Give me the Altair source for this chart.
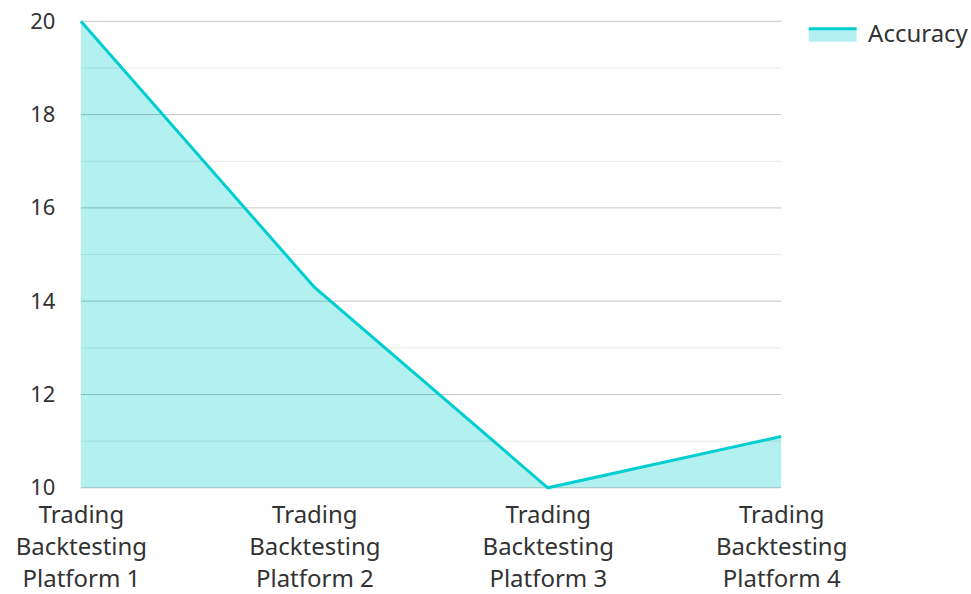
import altair as alt
import pandas as pd

platforms = [
    "Trading Backtesting Platform 1",
    "Trading Backtesting Platform 2",
    "Trading Backtesting Platform 3",
    "Trading Backtesting Platform 4",
]
accuracy = [20, 14.3, 10, 11.1]
series_name = "Accuracy"
y_ticks = [10, 11, 12, 13, 14, 15, 16, 17, 18, 19, 20]
y_base = y_ticks[0]

df = pd.DataFrame({"platform": platforms, "accuracy": accuracy, "series": series_name})
grid_df = pd.DataFrame({"v": y_ticks})

FONT = "Noto Sans"
TXT = "#333333"
LINE = "#00CED1"
FILL = "#b3f0f0"

x = alt.X(
    "platform:N",
    sort=None,
    scale=alt.Scale(type="point", padding=0),
    axis=alt.Axis(
        title=None, labelAngle=0,
        labelExpr="split(replace(datum.label, ' Backtesting ', '|Backtesting|'), '|')",
        labelFontSize=24, labelLineHeight=32, labelPadding=16, labelFont=FONT,
        labelColor=TXT, ticks=False, domain=False, grid=False, labelBaseline="top",
    ),
)
y = alt.Y(
    "accuracy:Q",
    scale=alt.Scale(domain=[10, 20], zero=False, nice=False),
    axis=alt.Axis(
        title=None, values=y_ticks,
        labelExpr="datum.value % 2 === 0 ? datum.label : ''",
        grid=False, ticks=False, domain=False, labelPadding=26,
        labelFontSize=22, labelFont=FONT, labelColor=TXT,
    ),
)

legend = alt.Legend(
    title=None, orient="none", legendX=727, legendY=-12,
    symbolType="M-1,-0.25H1V0.29H-1Z", symbolSize=2304,
    symbolFillColor=FILL, symbolStrokeColor=LINE, symbolStrokeWidth=3,
    symbolDash=[48, 300], symbolOpacity=1,
    labelFontSize=24, labelFont=FONT, labelColor=TXT, labelOffset=10, padding=0,
)

area = alt.Chart(df).mark_area(opacity=1).encode(
    x=x, y=y, y2=alt.Y2(datum=y_base),
    fill=alt.Fill("series:N", scale=alt.Scale(range=[FILL]), legend=legend),
)
grid = alt.Chart(grid_df).mark_rule(color="black", strokeWidth=1).encode(
    y=alt.Y("v:Q"),
    opacity=alt.condition("datum.v % 2 === 0", alt.value(0.23), alt.value(0.09)),
)
line = alt.Chart(df).mark_line(color=LINE, strokeWidth=3).encode(x=x, y=y)

chart = alt.layer(area, grid, line).properties(
    width=701, height=467,
    padding={"left": 15, "top": 9, "right": 3, "bottom": 2},
).configure_view(stroke=None)

chart.save("out.html", embed_options={"renderer": "svg", "actions": False})
